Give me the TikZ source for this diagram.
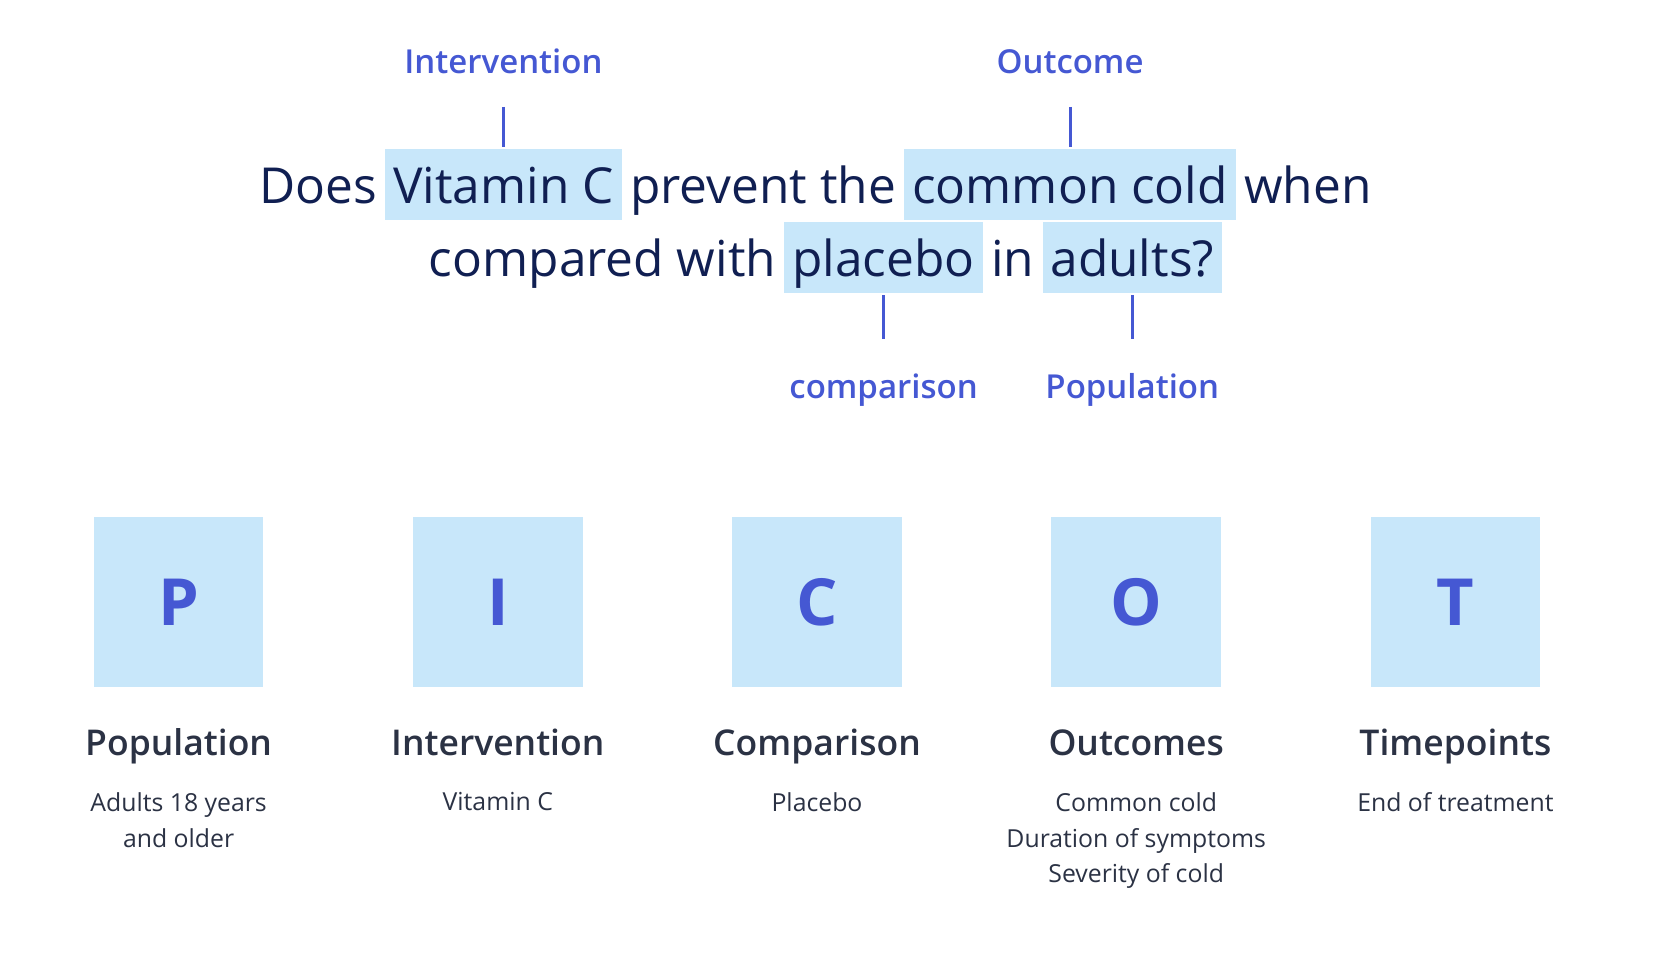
\documentclass[tikz,border=0pt]{standalone}
\usepackage{fontspec}
\setmainfont{Open Sans}
\newif\ifsemi
\IfFontExistsTF{Open Sans Semibold}
  {\newfontfamily\semifont{Open Sans Semibold}\semitrue}
  {\IfFontExistsTF{OpenSans-SemiBold}
    {\newfontfamily\semifont{OpenSans-SemiBold}\semitrue}
    {\IfFontExistsTF{Open Sans SemiBold:style=SemiBold}
      {\newfontfamily\semifont{Open Sans SemiBold:style=SemiBold}\semitrue}
      {\semifalse}}}
\ifsemi
  \newcommand\lblfont{\semifont}
  \newcommand\ttlfont{\semifont}
\else
  \newcommand\lblfont{\mdseries}
  \newcommand\ttlfont{\bfseries}
\fi
\usetikzlibrary{positioning}
\definecolor{hlblue}{RGB}{200,231,250}
\definecolor{picoblue}{RGB}{69,88,211}
\definecolor{navy}{RGB}{16,31,82}
\definecolor{slate}{RGB}{43,50,68}

\tikzset{
  word/.style={anchor=base west, inner sep=0pt, text=navy, font=\fontsize{49.6}{60}\selectfont},
  hl/.style={word, fill=hlblue, inner xsep=8pt, text height=54pt, text depth=17pt},
  lbl/.style={inner sep=0pt, text=picoblue, font=\fontsize{33}{40}\selectfont\lblfont, text height=23pt, text depth=7pt},
  tick/.style={picoblue, line width=3pt},
  letterbox/.style={fill=hlblue, minimum size=169.5pt, inner sep=0pt, text=picoblue, font=\fontsize{65}{70}\selectfont\bfseries},
  ttl/.style={anchor=base, inner sep=0pt, text=slate, font=\fontsize{35.5}{40}\selectfont\ttlfont},
  desc/.style={anchor=north, inner sep=0pt, align=center, text=slate, font=\fontsize{24.8}{35.7}\selectfont}
}

\begin{document}
\begin{tikzpicture}[x=1pt, y=-1pt]
		\useasboundingbox (0,0) rectangle (1672,954);
		% the question
		\node [word] (does) at (259,203) {Does};
		\node [hl, base right=8pt of does] (vitc) {Vitamin C};
		\node [word, base right=8pt of vitc] (prev) {prevent the};
		\node [hl, base right=8pt of prev] (cold) {common cold};
		\node [word, base right=8pt of cold] (when) {when};
		\node [word] (comp) at (428.7,276) {compared with};
		\node [hl, base right=8pt of comp] (plac) {placebo};
		\node [word, base right=8pt of plac] (in) {in};
		\node [hl, base right=8pt of in] (adult) {adults?};

		% labels
		\node [lbl, above=68pt of vitc] (lI) {Intervention};
		\node [lbl, above=68pt of cold] (lO) {Outcome};
		\node [lbl, below=82pt of plac] (lC) {comparison};
		\node [lbl, below=82pt of adult] (lP) {Population};
		\draw [tick, shorten <=26pt, shorten >=2pt] (lI.south) to (vitc.north);
		\draw [tick, shorten <=26pt, shorten >=2pt] (lO.south) to (cold.north);
		\draw [tick, shorten <=2pt, shorten >=36pt] (plac.south) to (lC.north);
		\draw [tick, shorten <=2pt, shorten >=36pt] (adult.south) to (lP.north);

		% PICOT boxes
		\node [letterbox] (boxP) at (178.6,602) {P};
		\node [letterbox, right=149.3pt of boxP] (boxI) {I};
		\node [letterbox, right=149.3pt of boxI] (boxC) {C};
		\node [letterbox, right=149.3pt of boxC] (boxO) {O};
		\node [letterbox, right=149.3pt of boxO] (boxT) {T};

		\node [ttl] (tP) at ([yshift=-68.3pt]boxP.south) {Population};
		\node [ttl] (tI) at ([yshift=-68.3pt]boxI.south) {Intervention};
		\node [ttl] (tC) at ([yshift=-68.3pt]boxC.south) {Comparison};
		\node [ttl] (tO) at ([yshift=-68.3pt]boxO.south) {Outcomes};
		\node [ttl] (tT) at ([yshift=-68.3pt]boxT.south) {Timepoints};

		\node [desc] (dP) at ([yshift=-37pt]tP.base) {Adults 18 years\\and older};
		\node [desc] (dI) at ([yshift=-37pt]tI.base) {Vitamin C};
		\node [desc] (dC) at ([yshift=-37pt]tC.base) {Placebo};
		\node [desc] (dO) at ([yshift=-37pt]tO.base) {Common cold\\Duration of symptoms\\Severity of cold};
		\node [desc] (dT) at ([yshift=-37pt]tT.base) {End of treatment};
\end{tikzpicture}
\end{document}
